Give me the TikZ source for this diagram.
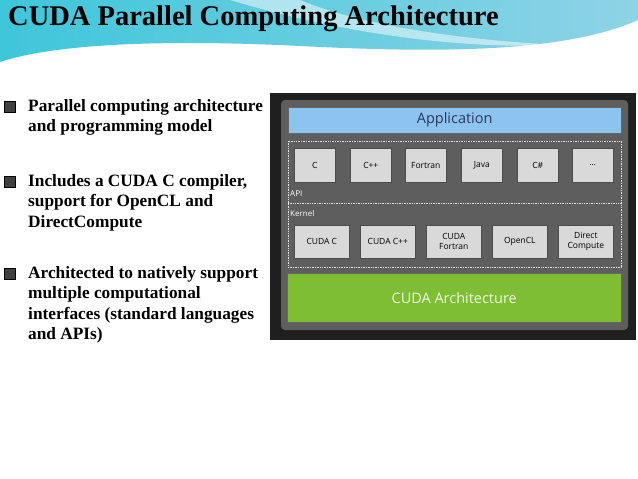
\documentclass[tikz,border=0pt]{standalone}
\usepackage{fontspec}
\setmainfont{Liberation Serif}
\newfontfamily\sansf{Open Sans}
\usetikzlibrary{shadings}
\definecolor{cyanA}{HTML}{3EC6DA}
\definecolor{cyanB}{HTML}{8FD3E6}
\definecolor{panel}{HTML}{5E5E5E}
\definecolor{appblue}{HTML}{8CC4F0}
\definecolor{green}{HTML}{7DBE32}
\definecolor{boxg}{HTML}{D9D9D9}
\begin{document}
\begin{tikzpicture}[x=1pt,y=-1pt,
  lang/.style={draw=black!70,fill=boxg,line width=0.6pt,font=\sansf\fontsize{8.5}{10}\selectfont,align=center,inner sep=0pt},
  bul/.style={font=\bfseries\fontsize{17.3}{20.5}\selectfont,align=left,anchor=north west,inner sep=0pt},
  sq/.style={fill=black!75,draw=black,minimum size=11pt,inner sep=0pt}]
\useasboundingbox (0,0) rectangle (638,479);
\fill[white] (0,0) rectangle (638,479);
% header wave
\shade[left color=cyanA,right color=cyanB] (0,0) -- (638,0) -- (638,20)
  .. controls (560,55) and (420,52) .. (300,46)
  .. controls (180,40) and (60,42) .. (0,62) -- cycle;
\fill[white,opacity=0.5] (230,0) .. controls (330,30) and (450,50) .. (560,45) .. controls (460,40) and (360,25) .. (300,0) -- cycle;
\node[font=\bfseries\fontsize{28.5}{30}\selectfont,anchor=west,inner sep=0] (title) at (8,19) {CUDA Parallel Computing Architecture};
% bullets
\node[sq] (b1) at (10,107) {};
\node[bul] (t1) at (28,99) {Parallel computing architecture\\and programming model};
\node[sq] (b2) at (10,182) {};
\node[bul] (t2) at (28,174) {Includes a CUDA C compiler,\\support for OpenCL and\\DirectCompute};
\node[sq] (b3) at (10,274) {};
\node[bul] (t3) at (28,266) {Architected to natively support\\multiple computational\\interfaces (standard languages\\and APIs)};
% panel
\fill[black!88] (270,93) rectangle (636,340);
\fill[panel,rounded corners=4pt] (281,100) rectangle (628,330);
\node[fill=appblue,draw=black!60,minimum width=333pt,minimum height=26pt,anchor=north west,inner sep=0,font=\sansf\fontsize{14.5}{16}\selectfont,text=black!70!blue!60!gray] (app) at (288,107) {Application};
\draw[white!80!gray,densely dotted,line width=0.7pt] (288,141) rectangle (621,267);
\draw[white!80!gray,densely dotted,line width=0.7pt] (288,203) -- (621,203);
\node[anchor=west,inner sep=0,text=white,font=\sansf\fontsize{8}{9}\selectfont] (api) at (290,194) {API};
\node[anchor=west,inner sep=0,text=white,font=\sansf\fontsize{8}{9}\selectfont] (ker) at (290,213) {Kernel};
\foreach \x/\t [count=\i] in {294/{C},350/{C++},405/{Fortran},461/{Java},517/{C\#},572/{\ldots}}
  \node[lang,minimum width=41pt,minimum height=34pt,anchor=north west] (l\i) at (\x,148) {\t};
\foreach \x/\t [count=\i] in {294/{CUDA C},360/{CUDA C++},426/{CUDA\\Fortran},492/{OpenCL},558/{Direct\\Compute}}
  \node[lang,minimum width=55pt,minimum height=33pt,anchor=north west] (k\i) at (\x,225) {\t};
\node[fill=green,draw=black!60,minimum width=334pt,minimum height=49pt,anchor=north west,inner sep=0,font=\sansf\fontsize{14.5}{16}\selectfont,text=white!90!green] (arch) at (287,273) {CUDA Architecture};
\end{tikzpicture}
\end{document}
